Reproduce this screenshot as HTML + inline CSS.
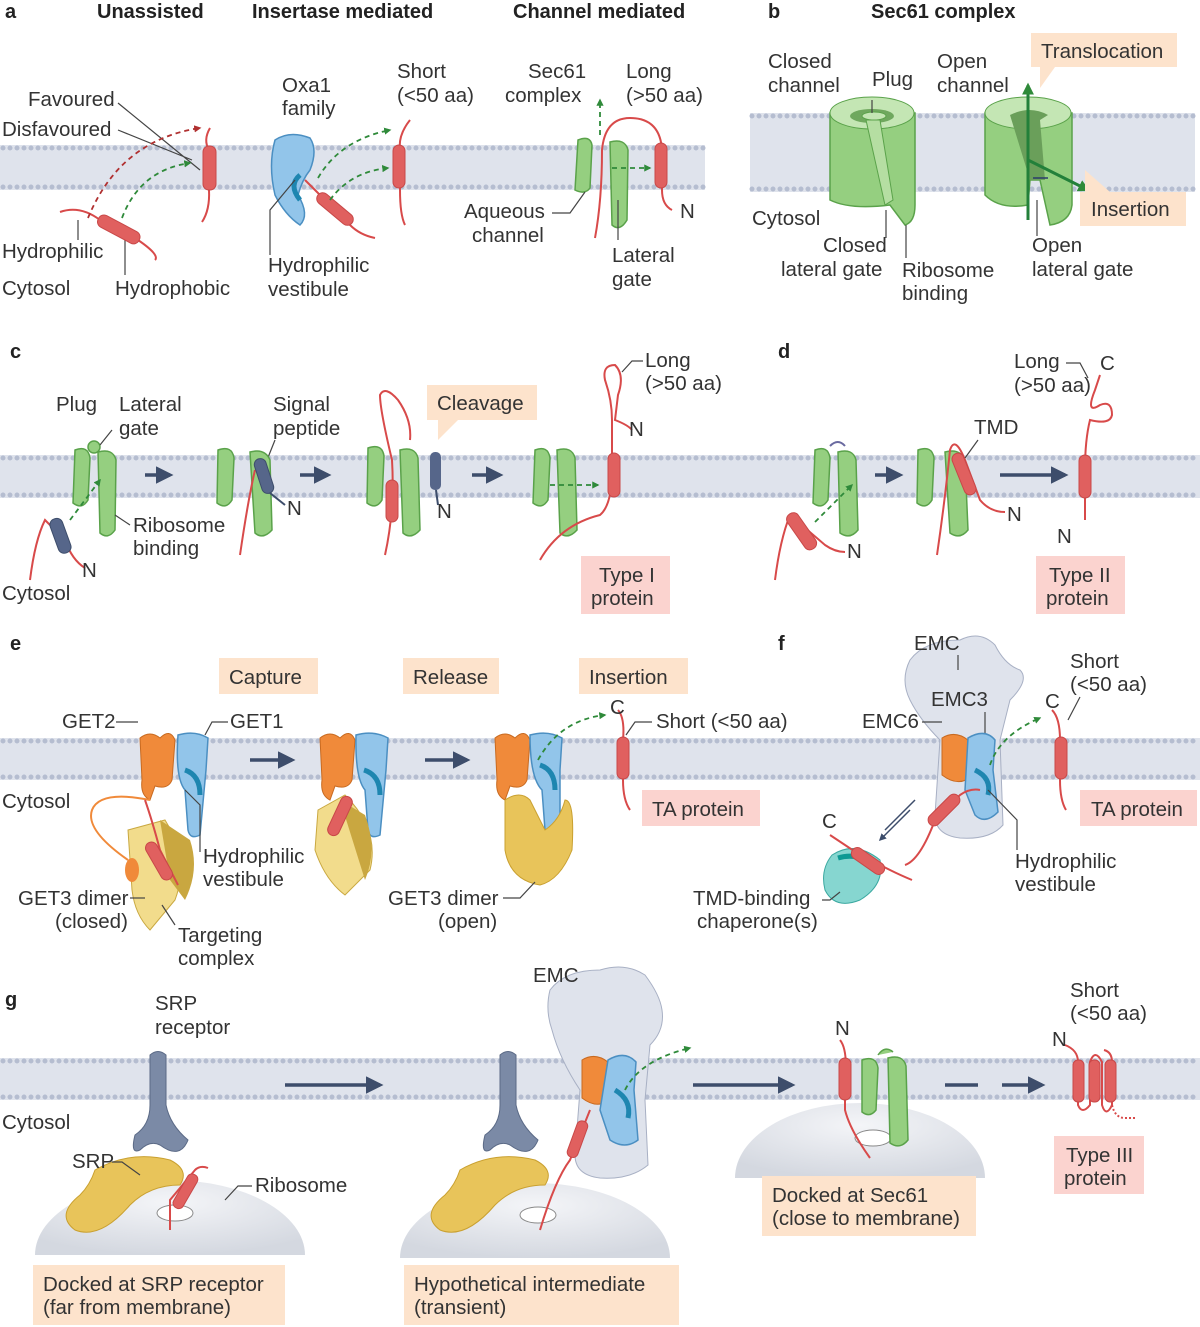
<!DOCTYPE html><html><head><meta charset="utf-8"><style>body{margin:0;background:#fff}svg{display:block}text{font-family:"Liberation Sans",sans-serif;font-size:20.5px;fill:#333}.b{font-weight:bold;font-size:20px;fill:#222}.m{fill:#dfe3ec}.e{stroke:#b5bdd0;stroke-width:5;stroke-dasharray:0 7;stroke-linecap:round;fill:none}.r{fill:#e0605f;stroke:#c84848}.g{fill:#95cf80;stroke:#5aa24a;stroke-width:1.5}.bl{fill:#92c5ea;stroke:#4b8fc2;stroke-width:1.5}.rl{fill:none;stroke:#d84a4a;stroke-width:2}.ln{stroke:#444;stroke-width:1.2;fill:none}.gd{fill:none;stroke:#2f8a3a;stroke-width:1.8;stroke-dasharray:5 4}.pe{fill:#fde3cc}.pk{fill:#fbd3cf}.ar{stroke:#3d4d6b;stroke-width:3.5;fill:none}</style></head><body>
<svg width="1200" height="1327" viewBox="0 0 1200 1327" xmlns="http://www.w3.org/2000/svg">
<defs>
<marker id="ah" viewBox="0 0 10 10" refX="8" refY="5" markerWidth="5" markerHeight="5" orient="auto"><path d="M0 0L10 5L0 10z" fill="#3d4d6b"/></marker>
<marker id="gh" viewBox="0 0 10 10" refX="8" refY="5" markerWidth="4" markerHeight="4" orient="auto"><path d="M0 0L10 5L0 10z" fill="#2f8a3a"/></marker>
<marker id="rh" viewBox="0 0 10 10" refX="8" refY="5" markerWidth="4" markerHeight="4" orient="auto"><path d="M0 0L10 5L0 10z" fill="#b03030"/></marker>
<radialGradient id="rib" cx="0.5" cy="0.3" r="0.7"><stop offset="0" stop-color="#f4f5f8"/><stop offset="1" stop-color="#d4d8e0"/></radialGradient>
</defs>
<!-- membranes -->
<rect class="m" x="0" y="145" width="705" height="45"/><path class="e" d="M3 148H705M3 187H705"/>
<rect class="m" x="750" y="113" width="445" height="79"/><path class="e" d="M752 116H1195M752 189H1195"/>
<rect class="m" x="0" y="455" width="1200" height="43"/><path class="e" d="M3 458H1200M3 495H1200"/>
<rect class="m" x="0" y="738" width="1200" height="42"/><path class="e" d="M3 741H1200M3 777H1200"/>
<rect class="m" x="0" y="1058" width="1200" height="42"/><path class="e" d="M3 1061H1200M3 1097H1200"/>

<!-- panel a -->
<text class="b" x="5" y="18">a</text><text class="b" x="97" y="18">Unassisted</text><text class="b" x="252" y="18">Insertase mediated</text><text class="b" x="513" y="18">Channel mediated</text>
<text x="28" y="106">Favoured</text><text x="2" y="136">Disfavoured</text><text x="2" y="258">Hydrophilic</text><text x="2" y="295">Cytosol</text><text x="115" y="295">Hydrophobic</text>
<path class="ln" d="M118 103L200 170M118 130L192 160M78 220V240M125 238V275"/>
<path d="M60 212Q80 205 100 220L138 240Q160 255 155 260" class="rl"/><rect class="r" x="96" y="223" width="46" height="13" rx="6" transform="rotate(28 119 229)"/>
<path class="rl" d="M210 128Q203 140 209 150V190Q210 210 202 222"/><rect class="r" x="203" y="146" width="13" height="44" rx="6"/>
<path d="M88 218Q120 140 200 128" fill="none" stroke="#b03030" stroke-width="1.8" stroke-dasharray="5 4" marker-end="url(#rh)"/>
<path class="gd" d="M122 218Q140 170 190 163" marker-end="url(#gh)"/>
<text x="282" y="92">Oxa1</text><text x="282" y="115">family</text><text x="397" y="78">Short</text><text x="397" y="102">(&lt;50 aa)</text>
<path class="bl" d="M275 140Q290 130 310 138Q318 150 310 170Q302 180 298 195Q310 215 300 225Q285 215 275 195Q268 165 275 140z"/>
<path d="M300 175Q288 185 300 200" stroke="#1e86b0" stroke-width="5" fill="none"/>
<path class="rl" d="M305 180L350 225Q360 235 375 238"/><rect class="r" x="313" y="203" width="44" height="12" rx="6" transform="rotate(40 335 209)"/>
<path class="rl" d="M410 120Q398 135 400 150V190Q400 215 405 225"/><rect class="r" x="393" y="145" width="12" height="43" rx="6"/>
<path class="gd" d="M318 178Q340 140 390 130" marker-end="url(#gh)"/><path class="gd" d="M330 200Q350 172 388 168" marker-end="url(#gh)"/>
<text x="268" y="272">Hydrophilic</text><text x="268" y="296">vestibule</text><path class="ln" d="M270 255V210L295 180"/>
<text x="528" y="78">Sec61</text><text x="505" y="102">complex</text><text x="626" y="78">Long</text><text x="626" y="102">(&gt;50 aa)</text>
<path class="g" d="M578 140Q590 135 592 145L590 188Q585 195 575 190Z"/>
<path class="g" d="M610 142Q625 138 628 150L627 220Q620 232 612 225Z"/>
<path class="rl" d="M595 238Q602 200 602 150Q605 118 630 118Q660 118 662 150V190Q662 205 672 210"/><rect class="r" x="655" y="143" width="12" height="45" rx="6"/>
<path class="gd" d="M600 135V100" marker-end="url(#gh)"/><path class="gd" d="M612 168H650" marker-end="url(#gh)"/>
<text x="680" y="218">N</text>
<text x="464" y="218">Aqueous</text><text x="472" y="242">channel</text><path class="ln" d="M552 213H570L585 192"/>
<text x="612" y="262">Lateral</text><text x="612" y="286">gate</text><path class="ln" d="M618 240V200"/>

<!-- panel b -->
<text class="b" x="768" y="18">b</text><text class="b" x="871" y="18">Sec61 complex</text>
<text x="768" y="68">Closed</text><text x="768" y="92">channel</text><text x="872" y="86">Plug</text><text x="937" y="68">Open</text><text x="937" y="92">channel</text>
<path class="g" d="M830 113V200Q850 210 890 205L905 225Q915 222 915 205V113Z"/><ellipse cx="872" cy="113" rx="42" ry="16" fill="#c4e6b4" stroke="#5aa24a"/><ellipse cx="872" cy="116" rx="22" ry="7" fill="#6fa85e"/><ellipse cx="874" cy="116" rx="12" ry="4" fill="#c4e6b4" stroke="#5aa24a"/>
<path d="M866 120L885 205L893 200L880 120Z" fill="#b5dea2" stroke="#5aa24a"/>
<path class="g" d="M985 113V195Q1000 210 1028 205L1030 180L1040 180L1050 225Q1070 222 1072 205V113Z"/><ellipse cx="1028" cy="113" rx="43" ry="16" fill="#c4e6b4" stroke="#5aa24a"/><path d="M1010 115Q1030 105 1048 115L1040 120L1045 180H1030Z" fill="#6a9f5a"/>
<path d="M1028 220V85" stroke="#23803a" stroke-width="3" marker-end="url(#gh)"/><path d="M1028 160L1088 190" stroke="#23803a" stroke-width="3" marker-end="url(#gh)"/>
<path d="M1033 178H1048" stroke="#2a3a6a" stroke-width="1.5"/>
<rect class="pe" x="1031" y="33" width="146" height="34"/><path class="pe" d="M1040 67L1055 67L1040 88Z"/><text x="1041" y="58">Translocation</text>
<rect class="pe" x="1080" y="192" width="106" height="34"/><path class="pe" d="M1085 192L1110 192L1085 170Z"/><text x="1091" y="216">Insertion</text>
<text x="752" y="225">Cytosol</text><text x="823" y="252">Closed</text><text x="781" y="276">lateral gate</text><text x="902" y="277">Ribosome</text><text x="902" y="300">binding</text><text x="1032" y="252">Open</text><text x="1032" y="276">lateral gate</text>
<path class="ln" d="M886 210V238M906 225V258M1037 200V236M872 100V113"/>

<!-- panel c -->
<text class="b" x="10" y="358">c</text>
<text x="56" y="411">Plug</text><text x="119" y="411">Lateral</text><text x="119" y="435">gate</text><text x="133" y="532">Ribosome</text><text x="133" y="555">binding</text><text x="2" y="600">Cytosol</text>
<path class="g" d="M75 450Q88 445 90 458L88 500Q82 510 73 503Z"/><path class="g" d="M98 452Q113 448 116 460L115 530Q108 540 100 533Z"/><circle cx="94" cy="447" r="6" class="g"/>
<path class="rl" d="M30 580Q35 540 45 520L65 540Q72 560 85 568"/><rect x="54" y="518" width="13" height="36" rx="6" style="fill:#56668a;stroke:#3d4d6b" transform="rotate(-20 60 536)"/>
<path class="gd" d="M70 520L100 480" marker-end="url(#gh)"/><path class="ln" d="M112 430L100 445M130 525L115 515"/><text x="82" y="577">N</text>
<path class="ar" d="M145 475H170" marker-end="url(#ah)"/>
<text x="273" y="411">Signal</text><text x="273" y="435">peptide</text><path class="ln" d="M275 440L265 465"/>
<path class="g" d="M218 450Q232 445 234 458L232 500Q226 510 217 503Z"/><path class="g" d="M250 452Q265 448 270 460L272 530Q263 540 255 533Z"/>
<path class="rl" d="M240 555Q248 500 255 470"/><rect x="258" y="458" width="12" height="36" rx="6" style="fill:#56668a;stroke:#3d4d6b" transform="rotate(-18 264 476)"/><path class="rl" style="stroke:#3d4d6b" d="M270 493L285 505"/><text x="287" y="515">N</text>
<path class="ar" d="M300 475H328" marker-end="url(#ah)"/>
<path class="g" d="M368 448Q382 443 384 456L382 500Q376 510 367 503Z"/><path class="g" d="M400 450Q415 446 418 458L420 530Q411 540 403 533Z"/>
<path class="rl" d="M385 555Q395 510 392 460Q380 410 380 395Q385 385 398 400Q412 420 410 440"/><rect class="r" x="386" y="480" width="12" height="42" rx="6"/>
<rect x="430" y="452" width="11" height="38" rx="5" fill="#56668a"/><path class="rl" d="M436 490L438 505" style="stroke:#3d4d6b"/><text x="437" y="518">N</text>
<rect class="pe" x="427" y="385" width="110" height="35"/><path class="pe" d="M438 420L458 420L438 440Z"/><text x="437" y="410">Cleavage</text>
<path class="ar" d="M472 475H500" marker-end="url(#ah)"/>
<path class="g" d="M535 450Q548 445 550 458L548 500Q542 510 533 503Z"/><path class="g" d="M557 450Q572 446 575 458L577 530Q568 540 560 533Z"/>
<path class="rl" d="M540 560Q560 525 600 515Q612 505 612 470V420Q612 400 605 380Q602 365 615 365Q625 375 618 395L615 420Q628 425 632 430"/><rect class="r" x="608" y="453" width="12" height="44" rx="6"/>
<path class="gd" d="M550 485H598" marker-end="url(#gh)"/><text x="629" y="436">N</text>
<text x="645" y="367">Long</text><text x="645" y="390">(&gt;50 aa)</text><path class="ln" d="M643 361H632L622 372"/>
<rect class="pk" x="581" y="556" width="89" height="58"/><text x="599" y="582">Type I</text><text x="591" y="605">protein</text>

<!-- panel d -->
<text class="b" x="778" y="358">d</text>
<path class="g" d="M815 450Q828 445 830 458L828 500Q822 510 813 503Z"/><path class="g" d="M838 452Q853 448 856 460L858 530Q850 540 840 533Z"/><path d="M830 446Q838 438 845 446" fill="none" stroke="#6a6aa0" stroke-width="2"/>
<path class="rl" d="M775 580Q780 540 790 515L825 545Q835 552 845 552"/><rect class="r" x="795" y="510" width="13" height="42" rx="6" transform="rotate(-35 802 531)"/><text x="847" y="558">N</text>
<path class="gd" d="M815 522L852 485" marker-end="url(#gh)"/>
<path class="ar" d="M875 475H900" marker-end="url(#ah)"/>
<path class="g" d="M918 450Q932 445 934 458L932 500Q926 510 917 503Z"/><path class="g" d="M945 452Q960 448 965 460L968 530Q960 540 950 533Z"/>
<path class="rl" d="M937 555Q945 500 950 450Q955 435 965 460L980 500Q990 512 1005 512"/><rect class="r" x="958" y="452" width="12" height="44" rx="6" transform="rotate(-22 964 474)"/><text x="1007" y="521">N</text>
<text x="974" y="434">TMD</text><path class="ln" d="M978 440L965 458"/>
<path class="ar" d="M1000 475H1065" marker-end="url(#ah)"/>
<path class="rl" d="M1085 520V470Q1085 440 1090 420Q1110 425 1112 415Q1112 400 1100 405Q1085 415 1095 390L1100 375"/><rect class="r" x="1079" y="455" width="12" height="43" rx="6"/>
<text x="1014" y="368">Long</text><text x="1014" y="392">(&gt;50 aa)</text><path class="ln" d="M1066 363H1080L1088 378"/><text x="1100" y="370">C</text><text x="1057" y="543">N</text>
<rect class="pk" x="1036" y="556" width="89" height="58"/><text x="1049" y="582">Type II</text><text x="1046" y="605">protein</text>

<!-- panel e -->
<text class="b" x="10" y="650">e</text>
<rect class="pe" x="219" y="658" width="99" height="36"/><text x="229" y="684">Capture</text>
<rect class="pe" x="403" y="658" width="96" height="36"/><text x="413" y="684">Release</text>
<rect class="pe" x="579" y="658" width="109" height="36"/><text x="589" y="684">Insertion</text>
<text x="62" y="728">GET2</text><text x="230" y="728">GET1</text><text x="2" y="808">Cytosol</text><path class="ln" d="M116 722H138M228 722H212L205 735"/>
<path d="M140 738Q150 730 160 738Q170 728 175 740L172 780Q168 790 155 786L150 800Q140 795 142 780Z" fill="#f08a3a" stroke="#c86a20"/>
<path class="bl" d="M178 735Q195 730 208 738L206 770L200 835Q190 840 188 830L185 790Q175 778 178 735z"/><path d="M185 770Q200 775 200 795" stroke="#1e86b0" stroke-width="5" fill="none"/>
<path d="M150 800Q100 790 92 810Q85 830 128 860" stroke="#f08a3a" stroke-width="2" fill="none"/>
<path d="M128 830L165 820Q190 860 175 900L150 930Q135 915 132 890Z" fill="#f2dc8c" stroke="#c9a840"/><path d="M160 820L190 840Q200 870 185 900L170 880Z" fill="#c9a740"/>
<ellipse cx="132" cy="870" rx="7" ry="12" fill="#f08a3a"/>
<path class="rl" d="M145 800Q152 820 160 850L178 885"/><rect class="r" x="153" y="840" width="12" height="42" rx="6" transform="rotate(-30 159 861)"/>
<text x="203" y="863">Hydrophilic</text><text x="203" y="886">vestibule</text><path class="ln" d="M185 790L200 805V852"/>
<text x="18" y="905">GET3 dimer</text><text x="55" y="928">(closed)</text><path class="ln" d="M130 898H145"/>
<text x="178" y="942">Targeting</text><text x="178" y="965">complex</text><path class="ln" d="M175 925L162 905"/>
<path class="ar" d="M250 760H292" marker-end="url(#ah)"/>
<path d="M320 738Q330 730 340 738Q350 728 355 740L352 780Q348 790 335 786L330 800Q320 795 322 780Z" fill="#f08a3a" stroke="#c86a20"/>
<path class="bl" d="M356 735Q373 730 388 738L386 770L380 835Q370 840 368 830L365 790Q355 778 356 735z"/><path d="M364 770Q380 775 380 795" stroke="#1e86b0" stroke-width="5" fill="none"/>
<path d="M318 810L345 795Q380 830 370 870L345 895Q325 880 315 850Z" fill="#f2dc8c" stroke="#c9a840"/><path d="M340 800L365 815Q378 850 365 880Z" fill="#c9a740"/>
<rect class="r" x="334" y="795" width="12" height="42" rx="6" transform="rotate(25 340 816)"/>
<path class="ar" d="M425 760H467" marker-end="url(#ah)"/>
<path d="M495 738Q505 730 515 738Q525 728 530 740L527 780Q523 790 510 786L505 800Q495 795 497 780Z" fill="#f08a3a" stroke="#c86a20"/>
<path class="bl" d="M530 735Q548 730 562 738L560 770L560 835Q550 845 545 830L542 790Q530 778 530 735z"/><path d="M540 765Q555 770 555 790" stroke="#1e86b0" stroke-width="5" fill="none"/>
<path d="M505 800Q520 790 530 800L545 830Q560 820 565 800Q575 800 572 850Q560 880 540 885Q510 880 505 850Z" fill="#e8c45a" stroke="#c9a030"/>
<path class="gd" d="M538 760Q560 720 605 715" marker-end="url(#gh)"/>
<path class="rl" d="M618 710Q625 718 623 740V780Q623 800 630 810"/><rect class="r" x="617" y="737" width="12" height="42" rx="6"/><text x="610" y="714">C</text>
<text x="656" y="728">Short (&lt;50 aa)</text><path class="ln" d="M652 722H635L626 735"/>
<rect class="pk" x="642" y="790" width="118" height="36"/><text x="652" y="816">TA protein</text>
<text x="388" y="905">GET3 dimer</text><text x="438" y="928">(open)</text><path class="ln" d="M503 898H520L535 882"/>

<!-- panel f -->
<text class="b" x="778" y="650">f</text>
<path d="M910 660Q925 640 960 640Q980 630 995 645Q1005 665 1020 670Q1030 680 1010 700L1000 740L1003 825Q990 840 960 838Q935 835 935 815L940 740Q920 720 910 700Q900 680 910 660Z" fill="#dfe3ec" stroke="#a8b0c4"/>
<text x="914" y="650">EMC</text><path class="ln" d="M958 655V670"/><text x="931" y="706">EMC3</text><path class="ln" d="M985 712V740"/><text x="862" y="728">EMC6</text><path class="ln" d="M922 722H942"/>
<path d="M942 738Q955 730 968 740L966 780Q955 785 942 775Z" fill="#f08a3a" stroke="#c86a20"/>
<path class="bl" d="M968 738Q985 728 995 740L993 770L998 812Q985 825 975 815L965 790Z"/><path d="M975 770Q992 778 988 795" stroke="#1e86b0" stroke-width="5" fill="none"/>
<path class="rl" d="M905 865Q920 860 935 820L960 795Q970 788 980 790"/><rect class="r" x="938" y="790" width="12" height="40" rx="6" transform="rotate(45 944 810)"/>
<path class="gd" d="M990 765Q1000 735 1040 718" marker-end="url(#gh)"/>
<path class="rl" d="M1052 710Q1060 718 1060 740V780Q1060 800 1066 810"/><rect class="r" x="1055" y="737" width="12" height="42" rx="6"/><text x="1045" y="708">C</text>
<text x="1070" y="668">Short</text><text x="1070" y="691">(&lt;50 aa)</text><path class="ln" d="M1080 697L1068 720"/>
<rect class="pk" x="1080" y="790" width="117" height="36"/><text x="1091" y="816">TA protein</text>
<text x="1015" y="868">Hydrophilic</text><text x="1015" y="891">vestibule</text><path class="ln" d="M988 790L1017 820V850"/>
<path d="M885 830L915 800M910 810L880 840" stroke="#3d4d6b" stroke-width="1.5" marker-end="url(#ah)"/>
<path d="M832 855Q855 840 880 860Q885 885 860 900Q835 910 825 890Q820 870 832 855Z" fill="#86d6d0" stroke="#3aa8a0"/><path d="M838 858Q858 852 875 866" stroke="#0d9a94" stroke-width="5" fill="none"/>
<path class="rl" d="M830 835L860 855L890 870Q900 875 912 880"/><rect class="r" x="862" y="842" width="12" height="38" rx="6" transform="rotate(-55 868 861)"/><text x="822" y="828">C</text>
<text x="693" y="905">TMD-binding</text><text x="697" y="928">chaperone(s)</text><path class="ln" d="M822 900H830L840 892"/>

<!-- panel g -->
<text class="b" x="5" y="1006">g</text>
<text x="155" y="1010">SRP</text><text x="155" y="1034">receptor</text>
<path d="M35 1255A135 75 0 0 1 305 1255Z" fill="url(#rib)"/><ellipse cx="175" cy="1213" rx="18" ry="8" fill="#fff" stroke="#888"/>
<path d="M150 1055Q158 1048 166 1055V1105Q170 1125 188 1140Q180 1160 160 1145Q150 1140 140 1150Q130 1155 135 1135Q150 1125 150 1105Z" fill="#7b8aa6" stroke="#5b6a86"/>
<path d="M95 1170Q130 1150 170 1160Q190 1170 180 1185Q150 1185 130 1205Q100 1240 75 1230Q55 1215 80 1195Q90 1185 95 1170Z" fill="#e8c45a" stroke="#c9a030"/>
<path class="rl" d="M170 1230V1200L195 1170Q200 1165 208 1168"/><rect class="r" x="180" y="1172" width="11" height="38" rx="5" transform="rotate(30 185 1191)"/>
<text x="72" y="1168">SRP</text><path class="ln" d="M112 1162H122L140 1175"/><text x="255" y="1192">Ribosome</text><path class="ln" d="M252 1186H238L225 1200"/>
<text x="2" y="1129">Cytosol</text>
<path class="ar" d="M285 1085H380" marker-end="url(#ah)"/>
<rect class="pe" x="33" y="1265" width="252" height="60"/><text x="43" y="1291">Docked at SRP receptor</text><text x="43" y="1314">(far from membrane)</text>
<path d="M400 1258A135 75 0 0 1 670 1258Z" fill="url(#rib)"/><ellipse cx="538" cy="1215" rx="18" ry="8" fill="#fff" stroke="#888"/>
<path d="M500 1055Q508 1048 516 1055V1105Q520 1125 538 1140Q530 1160 510 1145Q500 1140 490 1150Q480 1155 485 1135Q500 1125 500 1105Z" fill="#7b8aa6" stroke="#5b6a86"/>
<path d="M460 1170Q495 1150 535 1160Q555 1170 545 1185Q515 1185 495 1205Q465 1240 440 1230Q420 1215 445 1195Q455 1185 460 1170Z" fill="#e8c45a" stroke="#c9a030"/>
<path d="M550 990Q565 970 600 970Q625 962 645 975Q660 995 662 1010Q665 1030 650 1045L645 1100L648 1165Q630 1180 600 1178Q575 1175 575 1155L580 1090Q560 1060 552 1030Q545 1010 550 990Z" fill="#dfe3ec" stroke="#a8b0c4"/>
<text x="533" y="982">EMC</text>
<path d="M582 1060Q595 1052 608 1062L606 1102Q595 1108 582 1098Z" fill="#f08a3a" stroke="#c86a20"/>
<path class="bl" d="M608 1060Q625 1050 636 1062L634 1090L638 1140Q625 1150 610 1140L600 1110Z"/><path d="M615 1090Q632 1100 628 1118" stroke="#1e86b0" stroke-width="5" fill="none"/>
<path class="rl" d="M540 1230Q555 1180 570 1160L590 1110"/><rect class="r" x="572" y="1120" width="11" height="38" rx="5" transform="rotate(20 577 1139)"/>
<path class="gd" d="M625 1090Q640 1060 690 1048" marker-end="url(#gh)"/>
<rect class="pe" x="404" y="1265" width="275" height="60"/><text x="414" y="1291">Hypothetical intermediate</text><text x="414" y="1314">(transient)</text>
<path class="ar" d="M693 1085H792" marker-end="url(#ah)"/>
<path d="M735 1178A125 75 0 0 1 985 1178Z" fill="url(#rib)"/><ellipse cx="873" cy="1138" rx="18" ry="8" fill="#fff" stroke="#888"/>
<path class="g" d="M862 1060Q876 1055 878 1068L876 1110Q870 1118 862 1112Z"/><path class="g" d="M888 1058Q903 1054 906 1066L908 1140Q900 1150 890 1143Z"/><path class="g" d="M878 1055Q885 1045 893 1052" fill="none"/>
<path class="rl" d="M840 1040Q848 1050 845 1080V1110Q850 1130 870 1158"/><rect class="r" x="839" y="1058" width="12" height="42" rx="6"/><text x="835" y="1035">N</text>
<rect class="pe" x="762" y="1176" width="214" height="60"/><text x="772" y="1202">Docked at Sec61</text><text x="772" y="1225">(close to membrane)</text>
<path class="ar" d="M945 1085H978M1002 1085H1042" marker-end="url(#ah)"/>
<path class="rl" d="M1065 1045Q1078 1050 1078 1062V1105Q1082 1115 1090 1105V1062Q1095 1048 1102 1062V1105Q1106 1118 1112 1105V1062Q1112 1052 1104 1050"/><path d="M1112 1105Q1115 1118 1125 1118H1135" stroke="#d84a4a" stroke-width="2" stroke-dasharray="2 2" fill="none"/>
<rect class="r" x="1073" y="1060" width="11" height="42" rx="5"/><rect class="r" x="1089" y="1060" width="11" height="42" rx="5"/><rect class="r" x="1105" y="1060" width="11" height="42" rx="5"/>
<text x="1052" y="1046">N</text><text x="1070" y="997">Short</text><text x="1070" y="1020">(&lt;50 aa)</text>
<rect class="pk" x="1054" y="1136" width="90" height="58"/><text x="1066" y="1162">Type III</text><text x="1064" y="1185">protein</text>
</svg></body></html>
